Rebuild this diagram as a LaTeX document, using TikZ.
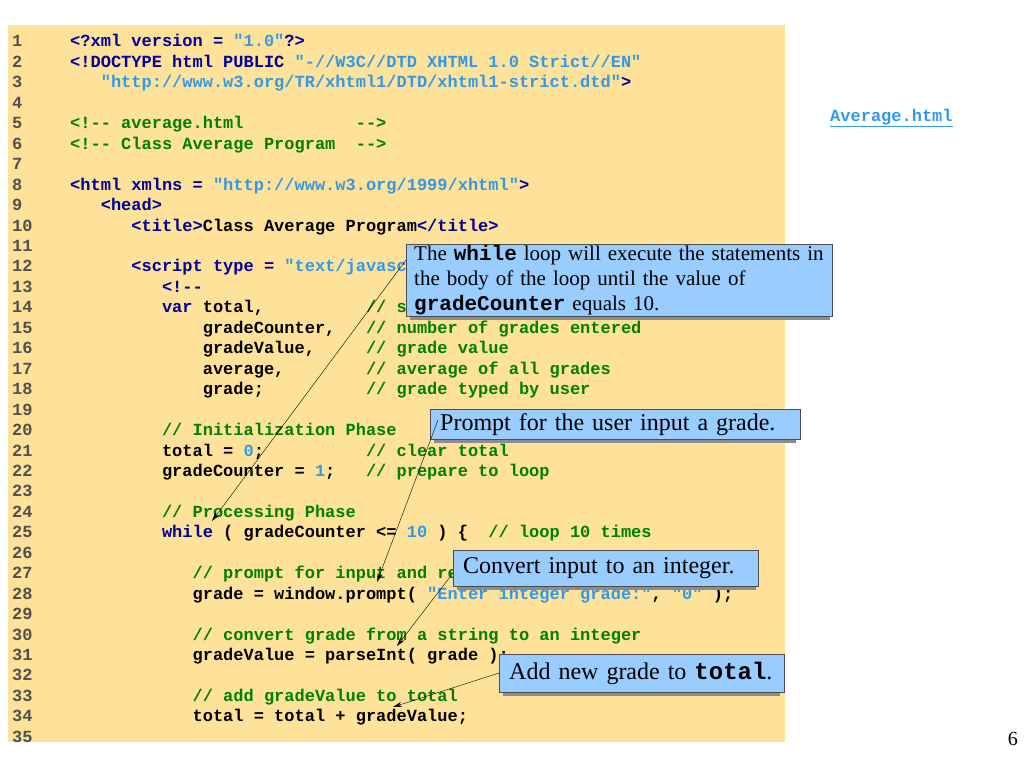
\documentclass[tikz,border=0pt]{standalone}
\usepackage{fontspec}
\setmainfont{Liberation Serif}
\newfontfamily\codefont{Liberation Mono}
\usetikzlibrary{arrows.meta}

\definecolor{codebg}{RGB}{254,226,154}
\definecolor{navy}{RGB}{0,0,153}
\definecolor{strblue}{RGB}{51,153,230}
\definecolor{cmtgreen}{RGB}{0,128,0}
\definecolor{numgray}{RGB}{80,80,80}
\definecolor{notebg}{RGB}{153,204,255}

\tikzset{
  code/.style={anchor=base west, inner sep=0pt, font=\codefont\bfseries\fontsize{17}{20}\selectfont},
  note/.style={draw=black!70, fill=notebg, anchor=north west, inner sep=0pt, align=left,
    font=\fontsize{24}{25}\selectfont},
  shade/.style={fill=black!45},
  pointer/.style={-{Stealth[length=9pt,width=5pt]}, thin}
}
% segment of code: line, column, colour, text
\newcommand{\cseg}[4]{\node[code, text=#3] at (70+#2*10.2, 47+#1*20.45-20.45) {#4};}

\begin{document}
\begin{tikzpicture}[x=1pt,y=-1pt]
  \useasboundingbox (0,0) rectangle (1024,768);
  % the listing
  \fill[codebg] (8,25) rectangle (785,742);
  \foreach \n in {1,...,35}
    \node[code, text=numgray] at (12, 47+\n*20.45-20.45) {\n};

  \cseg{1}{0}{navy}{<?xml version = }
  \cseg{1}{16}{strblue}{"1.0"}
  \cseg{1}{21}{navy}{?>}
  \cseg{2}{0}{navy}{<!DOCTYPE html PUBLIC }
  \cseg{2}{22}{strblue}{"-//W3C//DTD XHTML 1.0 Strict//EN"}
  \cseg{3}{3}{strblue}{"http://www.w3.org/TR/xhtml1/DTD/xhtml1-strict.dtd"}
  \cseg{3}{54}{navy}{>}
  \cseg{5}{0}{cmtgreen}{<!-{}- average.html}
  \cseg{5}{28}{cmtgreen}{-{}->}
  \cseg{6}{0}{cmtgreen}{<!-{}- Class Average Program}
  \cseg{6}{28}{cmtgreen}{-{}->}
  \cseg{8}{0}{navy}{<html xmlns = }
  \cseg{8}{14}{strblue}{"http://www.w3.org/1999/xhtml"}
  \cseg{8}{44}{navy}{>}
  \cseg{9}{3}{navy}{<head>}
  \cseg{10}{6}{navy}{<title>}
  \cseg{10}{13}{black}{Class Average Program}
  \cseg{10}{34}{navy}{</title>}
  \cseg{12}{6}{navy}{<script type = }
  \cseg{12}{21}{strblue}{"text/javascript"}
  \cseg{12}{38}{navy}{>}
  \cseg{13}{9}{navy}{<!-{}-}
  \cseg{14}{9}{navy}{var}
  \cseg{14}{13}{black}{total,}
  \cseg{14}{29}{cmtgreen}{// sum of grades}
  \cseg{15}{13}{black}{gradeCounter,}
  \cseg{15}{29}{cmtgreen}{// number of grades entered}
  \cseg{16}{13}{black}{gradeValue,}
  \cseg{16}{29}{cmtgreen}{// grade value}
  \cseg{17}{13}{black}{average,}
  \cseg{17}{29}{cmtgreen}{// average of all grades}
  \cseg{18}{13}{black}{grade;}
  \cseg{18}{29}{cmtgreen}{// grade typed by user}
  \cseg{20}{9}{cmtgreen}{// Initialization Phase}
  \cseg{21}{9}{black}{total =}
  \cseg{21}{17}{strblue}{0}
  \cseg{21}{18}{black}{;}
  \cseg{21}{29}{cmtgreen}{// clear total}
  \cseg{22}{9}{black}{gradeCounter =}
  \cseg{22}{24}{strblue}{1}
  \cseg{22}{25}{black}{;}
  \cseg{22}{29}{cmtgreen}{// prepare to loop}
  \cseg{24}{9}{cmtgreen}{// Processing Phase}
  \cseg{25}{9}{navy}{while}
  \cseg{25}{15}{black}{( gradeCounter <=}
  \cseg{25}{33}{strblue}{10}
  \cseg{25}{36}{black}{) \{}
  \cseg{25}{41}{cmtgreen}{// loop 10 times}
  \cseg{27}{12}{cmtgreen}{// prompt for input and read grade from user}
  \cseg{28}{12}{black}{grade = window.prompt(}
  \cseg{28}{35}{strblue}{"Enter integer grade:"}
  \cseg{28}{57}{black}{,}
  \cseg{28}{59}{strblue}{"0"}
  \cseg{28}{63}{black}{);}
  \cseg{30}{12}{cmtgreen}{// convert grade from a string to an integer}
  \cseg{31}{12}{black}{gradeValue = parseInt( grade );}
  \cseg{33}{12}{cmtgreen}{// add gradeValue to total}
  \cseg{34}{12}{black}{total = total + gradeValue;}

  % file name and slide number
  \node[anchor=base west, inner sep=0pt, text=strblue, font=\codefont\bfseries\fontsize{17}{20}\selectfont]
    (fname) at (830,121) {\underline{Average.html}};
  \node[anchor=base east, inner sep=0pt, font=\fontsize{20}{24}\selectfont] (page) at (1018,745) {6};

  % callouts
  \fill[shade] (410,248) rectangle (830,320);
  \node[note, minimum width=420pt, minimum height=72pt, text width=410pt, inner xsep=8pt,
    font=\fontsize{21}{25}\selectfont]
    (loopnote) at (406,244) {The \textbf{\codefont while} loop will execute the statements in\\
    the body of the loop until the value of\\ \textbf{\codefont gradeCounter} equals 10.};
  \fill[shade] (434,413) rectangle (796,443);
  \node[note, minimum width=362pt, minimum height=30pt, text width=350pt, inner xsep=10pt]
    (promptnote) at (430,409) {Prompt for the user input a grade.};
  \fill[shade] (457,554) rectangle (756,590);
  \node[note, minimum width=299pt, minimum height=36pt, text width=285pt, inner xsep=10pt]
    (convnote) at (453,550) {Convert input to an integer.};
  \fill[shade] (503,658) rectangle (780,696);
  \node[note, minimum width=277pt, minimum height=38pt, text width=265pt, inner xsep=10pt]
    (addnote) at (499,654) {Add new grade to \textbf{\codefont total}.};

  % pointers
  \coordinate (whileStart) at (406,260);
  \coordinate (inputStart) at (438,420);
  \coordinate (parseStart) at (453,573);
  \coordinate (totalStart) at (499,673);
  \coordinate (whileTip) at (212,521);
  \coordinate (inputTip) at (377,582);
  \coordinate (parseTip) at (397,646);
  \coordinate (totalTip) at (393,707);
  \draw[pointer] (whileStart) -- (whileTip);
  \draw[pointer] (inputStart) -- (inputTip);
  \draw[pointer] (parseStart) -- (parseTip);
  \draw[pointer] (totalStart) -- (totalTip);
\end{tikzpicture}
\end{document}
